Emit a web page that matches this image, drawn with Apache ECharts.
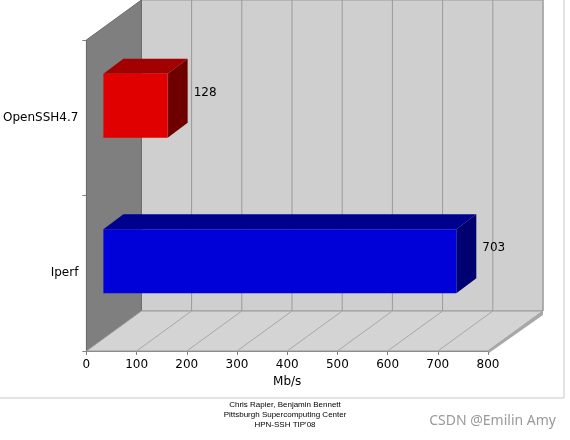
<!DOCTYPE html>
<html>
<head>
<meta charset="utf-8">
<script src="https://cdn.jsdelivr.net/npm/echarts@6/dist/echarts.min.js"></script>
<style>html,body{margin:0;background:#fff}#chart{width:570px;height:440px}</style>
</head>
<body>
<div id="chart"></div>
<script>
var categories = ['OpenSSH4.7', 'Iperf'];
var values = [128, 703];
var colors = [
    { front: '#e00000', top: '#a30000', side: '#6e0000' },
    { front: '#0000d8', top: '#00008e', side: '#000070' }
];

var chart = echarts.init(document.getElementById('chart'));
var DX = 55, DY = -40;   // depth of the box
var BX = 17, BY = -12;   // bar front plane offset
var BD = 20, BDY = -15;  // bar depth

function poly(pts, fill, stroke) {
    return { type: 'polygon', shape: { points: pts }, style: { fill: fill, stroke: stroke || null, lineWidth: 1 }, silent: true };
}

function renderBox(params, api) {
    var cs = params.coordSys;
    var x0 = cs.x, x1 = cs.x + cs.width, y0 = cs.y, y1 = cs.y + cs.height;
    var kids = [];
    // back wall
    kids.push(poly([[x0 + DX, y0 + DY], [x1 + DX, y0 + DY], [x1 + DX, y1 + DY], [x0 + DX, y1 + DY]], '#cfcfcf', '#9a9a9a'));
    // left wall
    kids.push(poly([[x0, y0], [x0 + DX, y0 + DY], [x0 + DX, y1 + DY], [x0, y1]], '#7f7f7f', '#6a6a6a'));
    // floor
    kids.push(poly([[x0, y1], [x1, y1], [x1 + DX, y1 + DY], [x0 + DX, y1 + DY]], '#d4d4d4', '#9a9a9a'));
    // floor thickness edge
    kids.push(poly([[x1, y1], [x1 + DX, y1 + DY], [x1 + DX, y1 + DY + 4], [x1 + 1, y1 + 2]], '#a8a8a8'));
    for (var v = 100; v <= 800; v += 100) {
        var px = api.coord([v, categories[0]])[0];
        kids.push({ type: 'line', shape: { x1: px + DX, y1: y0 + DY, x2: px + DX, y2: y1 + DY }, style: { stroke: '#9a9a9a', lineWidth: 1 }, silent: true });
        kids.push({ type: 'line', shape: { x1: px, y1: y1, x2: px + DX, y2: y1 + DY }, style: { stroke: '#a8a8a8', lineWidth: 1 }, silent: true });
    }
    return { type: 'group', children: kids };
}

function renderBar(params, api) {
    var i = params.dataIndex;
    var start = api.coord([0, api.value(1)]);
    var end = api.coord([api.value(0), api.value(1)]);
    var h = api.size([0, 1])[1] * 0.41;
    var xa = start[0] + BX, xb = end[0] + BX;
    var ya = start[1] + BY - h / 2, yb = ya + h;
    var c = colors[i];
    return {
        type: 'group',
        children: [
            poly([[xa, ya], [xb, ya], [xb + BD, ya + BDY], [xa + BD, ya + BDY]], c.top),
            poly([[xb, ya], [xb + BD, ya + BDY], [xb + BD, yb + BDY], [xb, yb]], c.side),
            poly([[xa, ya], [xb, ya], [xb, yb], [xa, yb]], c.front),
            { type: 'text', style: { text: String(values[i]), x: xb + BD + 6, y: (ya + yb) / 2 + BDY + 2, fill: '#000', font: '12px "DejaVu Sans"', verticalAlign: 'middle' } }
        ]
    };
}

var option = {
    backgroundColor: '#fff',
    animation: false,
    grid: { left: 83, right: 82, top: 40, bottom: 89 },
    xAxis: {
        type: 'value', min: 0, max: 800, interval: 100,
        name: 'Mb/s', nameLocation: 'middle', nameGap: 22,
        nameTextStyle: { color: '#000', fontSize: 12, fontFamily: 'DejaVu Sans' },
        axisLine: { show: true, lineStyle: { color: '#808080' } },
        axisTick: { show: true, length: 4, lineStyle: { color: '#808080' } },
        axisLabel: { color: '#000', fontSize: 12, fontFamily: 'DejaVu Sans', margin: 8 },
        splitLine: { show: false }
    },
    yAxis: {
        type: 'category', data: categories, inverse: true,
        axisLine: { show: true, lineStyle: { color: '#808080' } },
        axisTick: { show: true, length: 4, lineStyle: { color: '#808080' } },
        axisLabel: { color: '#000', fontSize: 12, fontFamily: 'DejaVu Sans', margin: 8 }
    },
    graphic: [
        { type: 'rect', shape: { x: -1, y: -1, width: 565, height: 399 }, style: { fill: null, stroke: '#c8c8c8', lineWidth: 1 }, z: 0 },
        { type: 'text', left: 'center', top: 400, style: { text: 'Chris Rapier, Benjamin Bennett\nPittsburgh Supercomputing Center\nHPN-SSH TIP\'08', textAlign: 'center', fill: '#000', font: '8px "Liberation Sans"', lineHeight: 10 }, x: -3 },
        { type: 'text', right: 14, top: 414, style: { text: 'CSDN @Emilin Amy', fill: '#9a9a9a', font: '14px "Noto Sans"' } }
    ],
    series: [
        { type: 'custom', renderItem: renderBox, data: [[0, 0]], z: 1, silent: true },
        { type: 'custom', renderItem: renderBar, data: values.map(function (v, i) { return [v, categories[i]]; }), encode: { x: 0, y: 1 }, z: 3, clip: false }
    ]
};
chart.setOption(option);
</script>
</body>
</html>
